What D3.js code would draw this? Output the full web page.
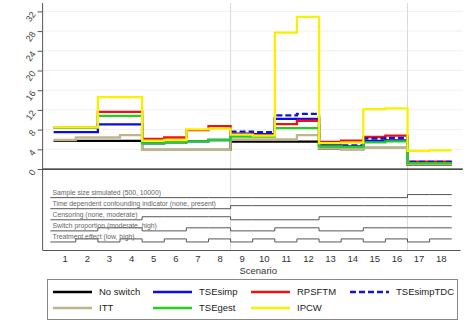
<!DOCTYPE html>
<html><head><meta charset="utf-8">
<script src="https://cdn.jsdelivr.net/npm/d3@7"></script>
<style>
body{margin:0;background:#fff;}
svg{display:block;font-family:"Liberation Sans",Arial,Helvetica,sans-serif;}
</style></head>
<body><svg id="c" width="474" height="335"></svg>
<script>
const scenarios = d3.range(1, 19);
const yTicks = [0, 4, 8, 12, 16, 20, 24, 28, 32];

const noSwitch = [5.7,5.7,5.7,5.7,3.9,3.9,3.9,3.9,5.55,5.55,5.55,5.55,4.2,4.05,4.3,4.3,0.9,0.9];
const tseSimp  = [7.5,7.5,9.05,9.05,5.2,5.4,5.6,5.9,7.2,7.1,10.2,10.2,4.9,4.6,5.7,5.8,1.3,1.3];
const rpsftm   = [8.35,8.35,11.6,11.6,6.1,6.4,7.9,8.7,7.0,6.9,9.1,9.8,5.5,5.75,6.5,6.8,1.5,1.5];
const tseSimpTDC = [null,null,null,null,null,null,null,null,7.6,7.5,10.9,11.2,5.0,4.8,6.2,6.3,1.45,1.45];
const itt      = [5.9,6.4,6.4,6.9,3.9,3.9,3.9,3.9,6.0,6.0,6.0,6.9,4.2,4.05,4.3,4.3,0.95,0.95];
const tseGest  = [8.4,8.4,10.8,10.8,5.2,5.4,5.6,5.9,6.6,6.6,8.3,8.3,4.6,4.5,5.4,5.6,1.2,1.2];
const ipcw     = [8.45,8.45,14.6,14.6,5.75,5.9,8.05,8.2,7.0,6.8,27.7,30.9,5.25,5.35,12.15,12.3,3.7,3.8];

const factorLabels = [
  "Sample size simulated (500, 10000)",
  "Time dependent confounding indicator (none, present)",
  "Censoring (none, moderate)",
  "Switch proportion (moderate, high)",
  "Treatment effect (low, high)"
];
const sampleSize = [0,0,0,0,0,0,0,0,0,0,0,0,0,0,0,0,1,1];
const timeDep    = [0,0,0,0,0,0,0,0,1,1,1,1,1,1,1,1,1,1];
const censoring  = [0,0,0,0,1,1,1,1,0,0,0,0,1,1,1,1,1,1];
const switchProp = [0,0,1,1,0,0,1,1,0,0,1,1,0,0,1,1,1,1];
const treatEff   = [0,1,0,1,0,1,0,1,0,1,0,1,0,1,0,1,0,1];

const seriesNames = ["No switch","TSEsimp","RPSFTM","TSEsimpTDC","ITT","TSEgest","IPCW"];
const seriesColors = ["#000000","#0a0af0","#ee1111","#1414c8","#bfb48a","#22d022","#f8f200"];
const seriesData = [noSwitch, tseSimp, rpsftm, tseSimpTDC, itt, tseGest, ipcw];
const seriesDash = [null,null,null,"6,3",null,null,null];

const svg = d3.select("#c");
const x = d3.scaleLinear().domain([0, 19]).range([42.6, 462.8]);
const y = d3.scaleLinear().domain([-16.43, 33.7]).range([250, 3]);

// faint gridlines
svg.append("g").selectAll("line").data(yTicks.filter(d => d > 0)).join("line")
  .attr("x1", x(0)).attr("x2", x(19)).attr("y1", d => y(d)).attr("y2", d => y(d))
  .attr("stroke", "#f0f0f0").attr("stroke-width", 1);
svg.append("g").selectAll("line").data([8.5, 16.5]).join("line")
  .attr("x1", d => x(d)).attr("x2", d => x(d)).attr("y1", y(33.7)).attr("y2", y(-16.43))
  .attr("stroke", "#dadada").attr("stroke-width", 1);

// zero line
svg.append("line").attr("x1", x(0)).attr("x2", x(19)).attr("y1", y(0)).attr("y2", y(0))
  .attr("stroke", "#111").attr("stroke-width", 1.2);

// y axis
const yAxis = d3.axisLeft(y).tickValues(yTicks).tickSize(5).tickFormat(d3.format("d"));
const ga = svg.append("g").attr("transform", `translate(${x(0)},0)`).call(yAxis);
ga.select(".domain").attr("stroke", "#555").attr("d", `M0,${y(33.7)}V${y(-16.43)}`);
ga.selectAll(".tick line").attr("stroke", "#555");
ga.selectAll(".tick text").attr("font-size", 9).attr("fill", "#444")
  .attr("text-anchor", "end").attr("x", 0).attr("dy", 0)
  .attr("transform", "translate(-6.5,2.5) rotate(-55)");

// x axis baseline
svg.append("line").attr("x1", x(0)).attr("x2", x(18.9)).attr("y1", 250.5).attr("y2", 250.5)
  .attr("stroke", "#555").attr("stroke-width", 1);
const xAxis = d3.axisBottom(x).tickValues(scenarios).tickSize(0).tickPadding(5);
const gx = svg.append("g").attr("transform", "translate(0,250.5)").call(xAxis);
gx.select(".domain").remove();
gx.selectAll(".tick text").attr("font-size", 9.5).attr("fill", "#333");
svg.append("text").attr("x", x(9.75)).attr("y", 274).attr("text-anchor", "middle")
  .attr("font-size", 9.5).attr("fill", "#333").text("Scenario");

// factor panel
const factors = [sampleSize, timeDep, censoring, switchProp, treatEff];
const factorBase = [-5.8, -8.05, -10.3, -12.55, -14.8];
const stepH = 0.62;
factors.forEach((f, k) => {
  const pts = [];
  f.forEach((v, i) => {
    const vy = factorBase[k] + v * stepH;
    pts.push([scenarios[i] - 0.5, vy], [scenarios[i] + 0.5, vy]);
  });
  pts[0][0] = 0.35;
  svg.append("path").attr("d", d3.line().x(d => x(d[0])).y(d => y(d[1]))(pts))
    .attr("fill", "none").attr("stroke", "#555").attr("stroke-width", 1);
  svg.append("text").attr("x", 52.5).attr("y", y(factorBase[k]) - 2.6)
    .attr("font-size", 6.8).attr("fill", "#666").text(factorLabels[k]);
});

// step series
const line = d3.line().defined(d => d[1] != null).x(d => x(d[0])).y(d => y(d[1]));
seriesData.forEach((arr, k) => {
  const pts = [];
  arr.forEach((v, i) => {
    pts.push([scenarios[i] - 0.5, v], [scenarios[i] + 0.5, v]);
  });
  svg.append("path").attr("d", line(pts)).attr("fill", "none")
    .attr("stroke", seriesColors[k]).attr("stroke-width", 2.3)
    .attr("stroke-dasharray", seriesDash[k]);
});

// legend
const lg = svg.append("g");
lg.append("rect").attr("x", 47.5).attr("y", 279.5).attr("width", 410).attr("height", 40)
  .attr("fill", "#fff").attr("stroke", "#888").attr("stroke-width", 1);
const colX = [53, 153, 251, 350];
const rowY = [292, 308];
seriesNames.forEach((n, k) => {
  const cx = colX[k % 4], cy = rowY[Math.floor(k / 4)];
  lg.append("line").attr("x1", cx).attr("x2", cx + 39).attr("y1", cy).attr("y2", cy)
    .attr("stroke", seriesColors[k]).attr("stroke-width", 2.5)
    .attr("stroke-dasharray", seriesDash[k]);
  lg.append("text").attr("x", cx + 46).attr("y", cy + 3.4).attr("font-size", 9.5)
    .attr("fill", "#222").text(n);
});
</script></body></html>
